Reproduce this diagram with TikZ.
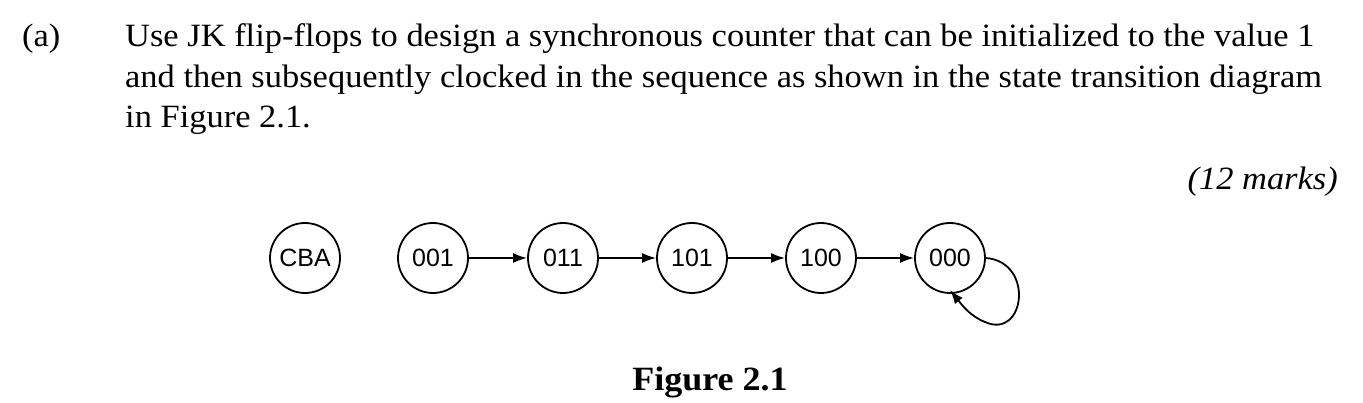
\documentclass[tikz,border=0pt]{standalone}
\usepackage{fontspec}
\setmainfont{Liberation Serif}
\newfontfamily\lsans{Liberation Sans}
\usetikzlibrary{arrows.meta}
\newcommand{\myxw}[1]{\scalebox{1.06}[1]{#1}}
\begin{document}
\begin{tikzpicture}[x=1pt,y=-1pt,
  st/.style={circle,draw,line width=1.8pt,minimum size=70pt,inner sep=0pt,font=\lsans\fontsize{25}{28}\selectfont},
  tr/.style={line width=1.8pt,-{Latex[length=14pt,width=10pt]}},
  txt/.style={anchor=base west,inner sep=0pt,font=\fontsize{32.5}{38}\selectfont}]
\useasboundingbox (0,0) rectangle (1363,403);
\node[txt] (a) at (22,47) {\myxw{(a)}};
\node[txt] (l1) at (125,47) {\myxw{Use JK flip-flops to design a synchronous counter that can be initialized to the value 1}};
\node[txt] (l2) at (125,88) {\myxw{and then subsequently clocked in the sequence as shown in the state transition diagram}};
\node[txt] (l3) at (125,128) {\myxw{in Figure 2.1.}};
\node[txt,anchor=base east] (m) at (1338,190) {\myxw{\itshape (12 marks)}};
\node[st] (cba) at (305,258) {CBA};
\node[st] (s1) at (433,258) {001};
\node[st] (s3) at (563,258) {011};
\node[st] (s5) at (692,258) {101};
\node[st] (s4) at (821,258) {100};
\node[st] (s0) at (950,258) {000};
\draw[tr] (s1) -- (s3);
\draw[tr] (s3) -- (s5);
\draw[tr] (s5) -- (s4);
\draw[tr] (s4) -- (s0);
\draw[tr] (s0.east) .. controls (1035,262) and (1025,340) .. (985,322) .. controls (970,316) and (962,305) .. (950,290);
\node[txt,anchor=base,font=\bfseries\fontsize{34}{40}\selectfont] (cap) at (710,390) {\myxw{Figure 2.1}};
\end{tikzpicture}
\end{document}
